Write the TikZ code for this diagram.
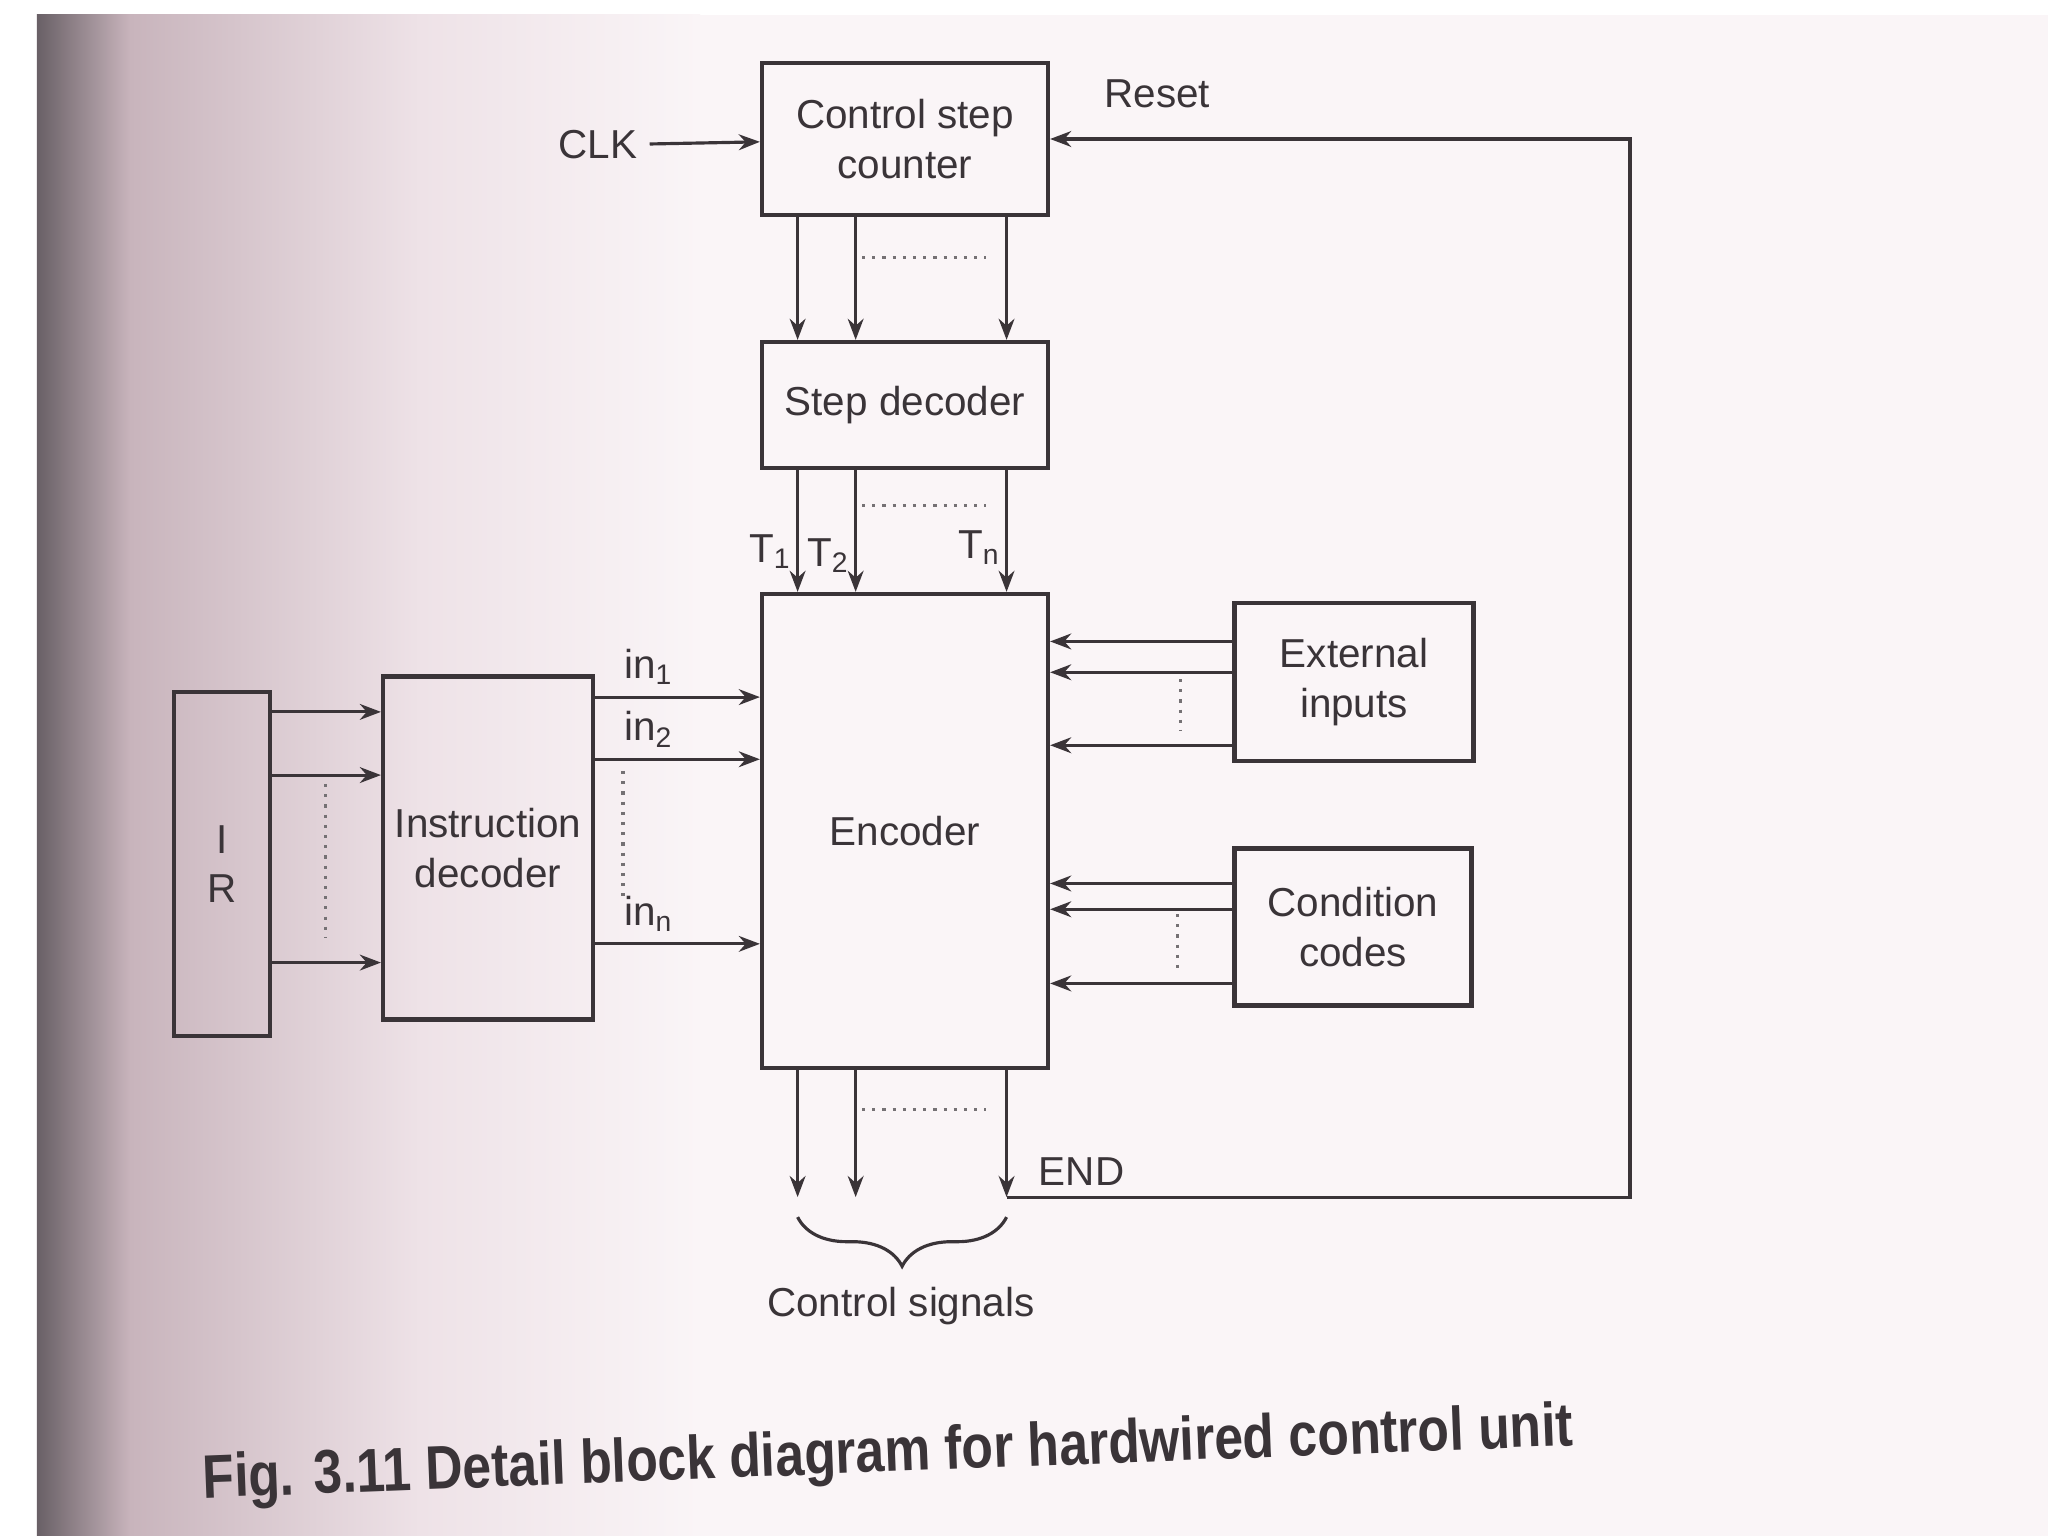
\documentclass[tikz,border=0pt]{standalone}
\usepackage{fontspec}
\setmainfont{Liberation Sans}
\usetikzlibrary{calc,arrows.meta,decorations.pathreplacing}
\definecolor{ink}{RGB}{58,52,56}
\definecolor{pagebg}{RGB}{250,245,247}
\definecolor{shadea}{RGB}{105,96,102}
\definecolor{shadeb}{RGB}{200,180,188}
\definecolor{shadec}{RGB}{238,226,231}

\begin{document}
\begin{tikzpicture}[
    box/.style={draw=ink, line width=1.2pt, align=center, text=ink, font=\fontsize{11.5}{14}\selectfont},
    lbl/.style={text=ink, font=\fontsize{11.5}{14}\selectfont},
    arr/.style={->, draw=ink, line width=0.9pt, >={Stealth[length=6pt,width=4.5pt]}},
    dots/.style={draw=ink!70, dotted, line width=0.9pt}
]
\useasboundingbox (0,0) rectangle (20.48,-15.36);

% Page background
\fill[white] (0,0) rectangle (20.48,-15.36);
\shade[left color=shadea, right color=shadeb] (0.37,-0.15) rectangle (1.3,-15.36);
\shade[left color=shadeb, right color=shadec] (1.3,-0.15) rectangle (4.2,-15.36);
\shade[left color=shadec, right color=pagebg] (4.2,-0.15) rectangle (7,-15.36);
\fill[pagebg] (7,-0.15) rectangle (20.48,-15.36);

% Step counter and step decoder
\node[box, minimum width=2.86cm, minimum height=1.52cm] (csc) at (9.05,-1.39) {Control step\\counter};
\node[box, minimum width=2.86cm, minimum height=1.26cm] (sd) at (9.05,-4.05) {Step decoder};
\node[lbl] (clk) at (5.98,-1.45) {CLK};
\draw[arr] (clk) -- (csc);

% Encoder
\node[box, minimum width=2.86cm, minimum height=4.74cm] (enc) at (9.05,-8.31) {Encoder};

% IR and instruction decoder
\node[box, minimum width=0.96cm, minimum height=3.44cm] (ir) at (2.22,-8.64) {I\\R};
\node[box, minimum width=2.05cm, minimum height=3.43cm] (idec) at (4.88,-8.48) {Instruction\\decoder};

% External inputs and condition codes
\node[box, minimum width=2.39cm, minimum height=1.58cm] (ext) at (13.54,-6.82) {External\\inputs};
\node[box, minimum width=2.37cm, minimum height=1.57cm] (cc) at (13.53,-9.27) {Condition\\codes};

% Counter to step decoder
\coordinate (s1) at ($(sd.north west)!0.13!(sd.north east)$);
\coordinate (s2) at ($(sd.north west)!0.33!(sd.north east)$);
\coordinate (s3) at ($(sd.north west)!0.85!(sd.north east)$);
\draw[arr] (csc.south -| s1) -- (s1);
\draw[arr] (csc.south -| s2) -- (s2);
\draw[arr] (csc.south -| s3) -- (s3);
\draw[dots] ($(csc.south)+(-0.43,-0.4)$) -- ++(1.24,0);

% Step decoder to encoder
\coordinate (t1) at ($(enc.north west)!0.13!(enc.north east)$);
\coordinate (t2) at ($(enc.north west)!0.33!(enc.north east)$);
\coordinate (t3) at ($(enc.north west)!0.85!(enc.north east)$);
\draw[arr] (sd.south -| t1) -- (t1);
\draw[arr] (sd.south -| t2) -- (t2);
\draw[arr] (sd.south -| t3) -- (t3);
\draw[dots] ($(sd.south)+(-0.43,-0.35)$) -- ++(1.24,0);
\node[lbl, anchor=east, inner sep=1pt] at ($(t1)+(-0.02,0.4)$) {T\textsubscript{1}};
\node[lbl, anchor=east, inner sep=1pt] at ($(t2)+(-0.02,0.36)$) {T\textsubscript{2}};
\node[lbl, anchor=east, inner sep=1pt] at ($(t3)+(-0.02,0.44)$) {T\textsubscript{n}};

% IR to instruction decoder
\coordinate (r1) at ($(idec.north west)!0.108!(idec.south west)$);
\coordinate (r2) at ($(idec.north west)!0.29!(idec.south west)$);
\coordinate (r3) at ($(idec.north west)!0.83!(idec.south west)$);
\draw[arr] (ir.east |- r1) -- (r1);
\draw[arr] (ir.east |- r2) -- (r2);
\draw[arr] (ir.east |- r3) -- (r3);
\draw[dots] ($(ir.east)+(0.53,0.8)$) -- ++(0,-1.54);

% Instruction decoder to encoder
\coordinate (e1) at ($(enc.north west)!0.22!(enc.south west)$);
\coordinate (e2) at ($(enc.north west)!0.35!(enc.south west)$);
\coordinate (e3) at ($(enc.north west)!0.736!(enc.south west)$);
\draw[arr] (idec.east |- e1) -- (e1);
\draw[arr] (idec.east |- e2) -- (e2);
\draw[arr] (idec.east |- e3) -- (e3);
\draw[dots] ($(idec.east)+(0.28,0.77)$) -- ++(0,-1.3);
\node[lbl, anchor=south west, inner sep=1pt] at ($(idec.east |- e1)+(0.25,0.08)$) {in\textsubscript{1}};
\node[lbl, anchor=south west, inner sep=1pt] at ($(idec.east |- e2)+(0.25,0.08)$) {in\textsubscript{2}};
\node[lbl, anchor=south west, inner sep=1pt] at ($(idec.east |- e3)+(0.25,0.08)$) {in\textsubscript{n}};

% External inputs to encoder
\coordinate (x1) at ($(ext.north west)!0.25!(ext.south west)$);
\coordinate (x2) at ($(ext.north west)!0.44!(ext.south west)$);
\coordinate (x3) at ($(ext.north west)!0.89!(ext.south west)$);
\draw[arr] (x1) -- (enc.east |- x1);
\draw[arr] (x2) -- (enc.east |- x2);
\draw[arr] (x3) -- (enc.east |- x3);
\draw[dots] ($(ext.west)+(-0.52,0.03)$) -- ++(0,-0.52);

% Condition codes to encoder
\coordinate (c1) at ($(cc.north west)!0.23!(cc.south west)$);
\coordinate (c2) at ($(cc.north west)!0.39!(cc.south west)$);
\coordinate (c3) at ($(cc.north west)!0.85!(cc.south west)$);
\draw[arr] (c1) -- (enc.east |- c1);
\draw[arr] (c2) -- (enc.east |- c2);
\draw[arr] (c3) -- (enc.east |- c3);
\draw[dots] ($(cc.west)+(-0.55,0.13)$) -- ++(0,-0.59);

% Encoder outputs
\coordinate (o1) at ($(enc.south west)!0.13!(enc.south east)+(0,-1.27)$);
\coordinate (o2) at ($(enc.south west)!0.33!(enc.south east)+(0,-1.27)$);
\coordinate (o3) at ($(enc.south west)!0.85!(enc.south east)+(0,-1.27)$);
\draw[arr] (enc.south -| o1) -- (o1);
\draw[arr] (enc.south -| o2) -- (o2);
\draw[arr] (enc.south -| o3) -- (o3);
\draw[dots] ($(enc.south)+(-0.43,-0.39)$) -- ++(1.24,0);
\node[lbl, anchor=west] (endl) at ($(o3)+(0.2,0.26)$) {END};

% END back to Reset
\coordinate (fbx) at (16.3,0);
\coordinate (fbr) at (csc.east -| fbx);
\draw[arr] (o3) -| (fbr) -- (csc.east);
\node[lbl, anchor=west] (rst) at ($(csc.east)+(0.42,0.45)$) {Reset};

% Control signals brace
\draw[draw=ink, line width=0.9pt, decorate, decoration={brace, mirror, amplitude=14pt}]
    ($(o1)+(0,-0.2)$) -- ($(o3)+(0,-0.2)$);
\node[lbl] (csig) at (9.01,-13.06) {Control signals};

% Caption
\node[text=ink, rotate=2.2] (cap) at (8.88,-14.56)
    {\scalebox{0.84}[1]{\fontsize{17.5}{20}\selectfont\bfseries Fig. 3.11 Detail block diagram for hardwired control unit}};
\end{tikzpicture}
\end{document}
